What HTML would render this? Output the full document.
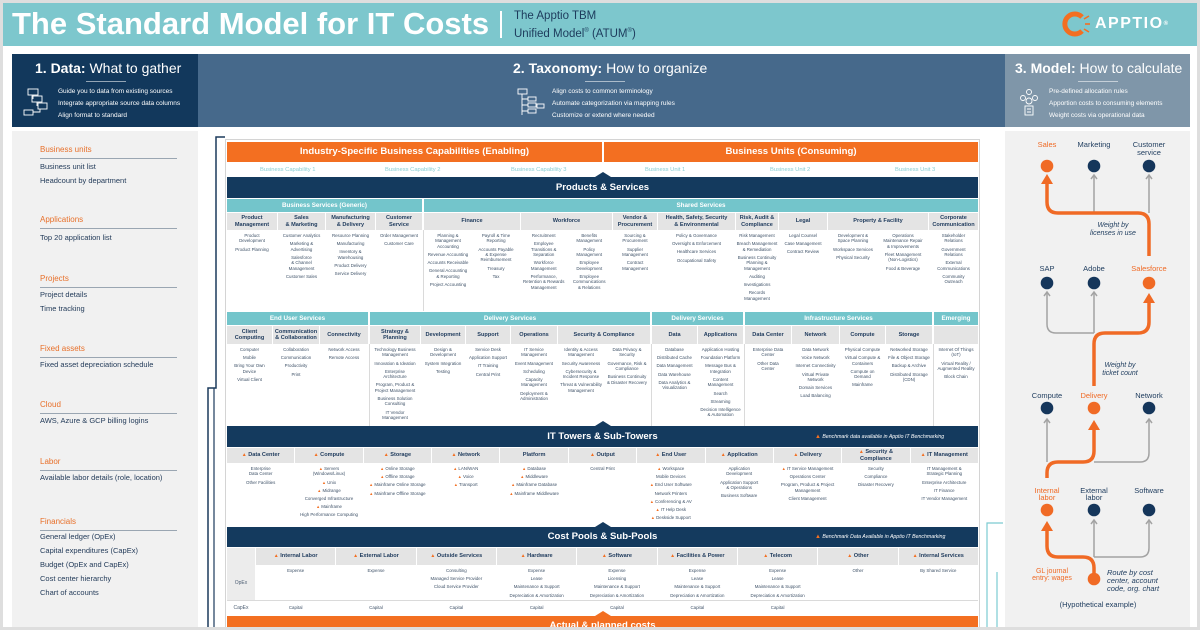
<!DOCTYPE html>
<html><head><meta charset="utf-8">
<style>
*{margin:0;padding:0;box-sizing:border-box}
html,body{width:1200px;height:630px;overflow:hidden;background:#fff}
body{font-family:"Liberation Sans",Arial,sans-serif;position:relative}
.a{position:absolute}
.frame{position:absolute;left:0;top:0;width:1200px;height:630px;border:3px solid #dedede;z-index:50;pointer-events:none}
.sec{position:absolute;top:54px;height:73px;color:#fff}
.st{position:absolute;top:60px;font-size:14px;line-height:16px;color:#fff;white-space:nowrap}
.ul{position:absolute;top:81px;height:1px;width:40px;background:rgba(255,255,255,.55)}
.bl{position:absolute;top:86px;font-size:6.5px;line-height:12px;color:#fff;white-space:nowrap}
.panel{position:absolute;top:131px;height:496px;background:#f1f1f1}
.lt{position:absolute;left:40px;width:137px;font-size:8px;line-height:10px;color:#e8702a;border-bottom:1px solid #9aa6b2;padding-bottom:3px}
.li{position:absolute;left:40px;font-size:7.5px;line-height:14px;color:#243c5a;white-space:nowrap}
.bar{position:absolute;color:#fff;font-weight:bold;text-align:center;white-space:nowrap}
.navy{background:#143a5e;font-size:9.6px;line-height:21px}
.org{background:#f36f21;font-size:9.6px;line-height:20px}
.teal{position:absolute;background:#73c5cb;color:#fff;font-weight:bold;font-size:6.3px;line-height:13px;text-align:center;height:13px;white-space:nowrap}
.row{position:absolute;display:flex;gap:1px}
.h{background:#e4e4e4;color:#1e3a5c;font-weight:bold;font-size:5.6px;line-height:6.4px;display:flex;align-items:center;justify-content:center;text-align:center;white-space:nowrap;flex:none}
.c{text-align:center;font-size:4.4px;line-height:5.4px;color:#3f5268;padding-top:3px;white-space:nowrap;flex:none}
.c div{margin-bottom:2.8px}
.c2{display:flex;flex:none}
.c2>.c{flex:1}
.fl{flex:1 1 0}
.t{color:#f36f21;font-size:4px}
.th{color:#f36f21;font-size:5px}
.vl{position:absolute;width:1px;background:#dadada}
.bu{position:absolute;top:165px;font-size:5.8px;line-height:10px;color:#86cdd3;white-space:nowrap}
.tab{position:absolute;width:0;height:0;border-left:8px solid transparent;border-right:8px solid transparent;border-bottom:5px solid #143a5e}
.bm{position:absolute;font-size:5.2px;line-height:8px;color:#fff;font-style:italic;white-space:nowrap}
</style></head><body>

<!-- header -->
<div class="a" style="left:3px;top:3px;width:1194px;height:43px;background:#7dc7cd"></div>
<div class="a" style="left:12px;top:5px;font-size:31px;line-height:38px;font-weight:bold;color:#fff;white-space:nowrap">The Standard Model for IT Costs</div>
<div class="a" style="left:500px;top:11px;width:1.5px;height:27px;background:#fff"></div>
<div class="a" style="left:514px;top:9px;font-size:11.5px;line-height:15px;color:#1d3b5c;white-space:nowrap">The Apptio TBM<br>Unified Model<sup style="font-size:6px">®</sup> (ATUM<sup style="font-size:6px">®</sup>)</div>
<svg class="a" style="left:1060px;top:9px" width="32" height="32" viewBox="1060 9 32 32">
<path d="M1082 17 A10 10 0 1 0 1082 31" fill="none" stroke="#f36f21" stroke-width="5"/>
<g stroke="#f36f21" stroke-width="1.6"><path d="M1084 19 L1089 16"/><path d="M1085 24 L1090 24"/><path d="M1084 29 L1089 32"/></g>
</svg>
<div class="a" style="left:1095px;top:15px;font-size:16px;line-height:18px;font-weight:bold;color:#fff;letter-spacing:1.5px;white-space:nowrap">APPTIO<span style="font-size:6px;vertical-align:top">®</span></div>

<!-- section banners -->
<div class="sec" style="left:12px;width:186px;background:#12385c"></div>
<div class="sec" style="left:198px;width:807px;background:#46698b"></div>
<div class="sec" style="left:1005px;width:185px;background:#7f96a9"></div>
<div class="st" style="left:35px"><b>1. Data:</b> What to gather</div>
<div class="st" style="left:513px"><b>2. Taxonomy:</b> How to organize</div>
<div class="st" style="left:1015px"><b>3. Model:</b> How to calculate</div>
<div class="ul" style="left:86px"></div>
<div class="ul" style="left:585px"></div>
<div class="ul" style="left:1078px"></div>
<div class="bl" style="left:58px">Guide you to data from existing sources<br>Integrate appropriate source data columns<br>Align format to standard</div>
<div class="bl" style="left:552px">Align costs to common terminology<br>Automate categorization via mapping rules<br>Customize or extend where needed</div>
<div class="bl" style="left:1049px">Pre-defined allocation rules<br>Apportion costs to consuming elements<br>Weight costs via operational data</div>
<svg class="a" style="left:0;top:0" width="1200" height="130">
<g fill="none" stroke="#fff" stroke-width="0.9">
<rect x="28" y="89" width="10" height="6"/><rect x="32" y="96" width="10" height="6"/><rect x="38" y="103" width="9" height="6"/><rect x="24" y="110" width="9" height="5"/>
<path d="M33 95 V99 M37 102 V106 M33 112 H40 V109"/>
<rect x="518" y="89" width="9" height="5"/><path d="M522 94 V115 M522 99 H528 M522 105 H528 M522 111 H528"/>
<rect x="528" y="97" width="8" height="4"/><rect x="528" y="103" width="8" height="4"/><rect x="528" y="109" width="8" height="4"/><rect x="537" y="104" width="7" height="4"/>
<circle cx="1029" cy="92" r="2.5"/><circle cx="1023" cy="98" r="2.5"/><circle cx="1035" cy="98" r="2.5"/><circle cx="1029" cy="101" r="3"/>
<rect x="1025" y="106" width="8" height="9"/><path d="M1027 109 H1031 M1027 112 H1031"/>
</g></svg>

<!-- left panel -->
<div class="panel" style="left:12px;width:186px"></div>
<div class="lt" style="top:145px">Business units</div>
<div class="li" style="top:160px">Business unit list<br>Headcount by department</div>
<div class="lt" style="top:215px">Applications</div>
<div class="li" style="top:231px">Top 20 application list</div>
<div class="lt" style="top:274px">Projects</div>
<div class="li" style="top:288px">Project details<br>Time tracking</div>
<div class="lt" style="top:344px">Fixed assets</div>
<div class="li" style="top:358px">Fixed asset depreciation schedule</div>
<div class="lt" style="top:400px">Cloud</div>
<div class="li" style="top:414px">AWS, Azure &amp; GCP billing logins</div>
<div class="lt" style="top:457px">Labor</div>
<div class="li" style="top:471px">Available labor details (role, location)</div>
<div class="lt" style="top:517px">Financials</div>
<div class="li" style="top:530px">General ledger (OpEx)<br>Capital expenditures (CapEx)<br>Budget (OpEx and CapEx)<br>Cost center hierarchy<br>Chart of accounts</div>

<!-- right panel -->
<div class="panel" style="left:1005px;width:185px"></div>

<!-- main box -->
<div class="a" style="left:225px;top:139px;width:755px;height:495px;border:1px solid #d4d4d4;background:#fff"></div>
<div class="bar org" style="left:227px;top:142px;width:375px">Industry-Specific Business Capabilities (Enabling)</div>
<div class="bar org" style="left:604px;top:142px;width:374px">Business Units (Consuming)</div>
<div class="bu" style="left:260px">Business Capability 1</div>
<div class="bu" style="left:385px">Business Capability 2</div>
<div class="bu" style="left:511px">Business Capability 3</div>
<div class="bu" style="left:645px">Business Unit 1</div>
<div class="bu" style="left:770px">Business Unit 2</div>
<div class="bu" style="left:895px">Business Unit 3</div>
<div class="tab" style="left:595px;top:172px"></div>
<div class="bar navy" style="left:227px;top:177px;width:751px">Products &amp; Services</div>

<!-- band 1 -->
<div class="teal" style="left:227px;top:199px;width:195px">Business Services (Generic)</div>
<div class="teal" style="left:424px;top:199px;width:554px">Shared Services</div>
<div class="row" style="left:227px;top:213px">
<div class="h" style="width:50px;height:17px">Product<br>Management</div>
<div class="h" style="width:47px;height:17px">Sales<br>&amp; Marketing</div>
<div class="h" style="width:49px;height:17px">Manufacturing<br>&amp; Delivery</div>
<div class="h" style="width:46px;height:17px">Customer<br>Service</div>
</div>
<div class="row" style="left:424px;top:213px">
<div class="h" style="width:96px;height:17px">Finance</div>
<div class="h" style="width:91px;height:17px">Workforce</div>
<div class="h" style="width:44px;height:17px">Vendor &amp;<br>Procurement</div>
<div class="h" style="width:77px;height:17px">Health, Safety, Security<br>&amp; Environmental</div>
<div class="h" style="width:42px;height:17px">Risk, Audit &amp;<br>Compliance</div>
<div class="h" style="width:48px;height:17px">Legal</div>
<div class="h" style="width:100px;height:17px">Property &amp; Facility</div>
<div class="h" style="width:49px;height:17px">Corporate<br>Communication</div>
</div>
<div class="row" style="left:227px;top:230px">
<div class="c" style="width:50px"><div>Product<br>Development</div><div>Product Planning</div></div>
<div class="c" style="width:47px"><div>Customer Analytics</div><div>Marketing &amp;<br>Advertising</div><div>Salesforce<br>&amp; Channel<br>Management</div><div>Customer Sales</div></div>
<div class="c" style="width:49px"><div>Resource Planning</div><div>Manufacturing</div><div>Inventory &amp;<br>Warehousing</div><div>Product Delivery</div><div>Service Delivery</div></div>
<div class="c" style="width:46px"><div>Order Management</div><div>Customer Care</div></div>
</div>
<div class="row" style="left:424px;top:230px">
<div class="c2" style="width:96px"><div class="c"><div>Planning &amp;<br>Management<br>Accounting</div><div>Revenue Accounting</div><div>Accounts Receivable</div><div>General Accounting<br>&amp; Reporting</div><div>Project Accounting</div></div><div class="c"><div>Payroll &amp; Time<br>Reporting</div><div>Accounts Payable<br>&amp; Expense<br>Reimbursement</div><div>Treasury</div><div>Tax</div></div></div>
<div class="c2" style="width:91px"><div class="c"><div>Recruitment</div><div>Employee<br>Transitions &amp;<br>Separation</div><div>Workforce<br>Management</div><div>Performance,<br>Retention &amp; Rewards<br>Management</div></div><div class="c"><div>Benefits<br>Management</div><div>Policy<br>Management</div><div>Employee<br>Development</div><div>Employee<br>Communications<br>&amp; Relations</div></div></div>
<div class="c" style="width:44px"><div>Sourcing &amp;<br>Procurement</div><div>Supplier<br>Management</div><div>Contract<br>Management</div></div>
<div class="c" style="width:77px"><div>Policy &amp; Governance</div><div>Oversight &amp; Enforcement</div><div>Healthcare Services</div><div>Occupational Safety</div></div>
<div class="c" style="width:42px"><div>Risk Management</div><div>Breach Management<br>&amp; Remediation</div><div>Business Continuity<br>Planning &amp;<br>Management</div><div>Auditing</div><div>Investigations</div><div>Records<br>Management</div></div>
<div class="c" style="width:48px"><div>Legal Counsel</div><div>Case Management</div><div>Contract Review</div></div>
<div class="c2" style="width:100px"><div class="c"><div>Development &amp;<br>Space Planning</div><div>Workspace Services</div><div>Physical Security</div></div><div class="c"><div>Operations<br>Maintenance Repair<br>&amp; Improvements</div><div>Fleet Management<br>(Non-Logistics)</div><div>Food &amp; Beverage</div></div></div>
<div class="c" style="width:49px"><div>Stakeholder<br>Relations</div><div>Government<br>Relations</div><div>External<br>Communications</div><div>Community<br>Outreach</div></div>
</div>
<div class="vl" style="left:423px;top:230px;height:81px"></div>

<!-- band 2 -->
<div class="teal" style="left:227px;top:312px;width:141px">End User Services</div>
<div class="teal" style="left:370px;top:312px;width:280px">Delivery Services</div>
<div class="teal" style="left:652px;top:312px;width:91px">Delivery Services</div>
<div class="teal" style="left:745px;top:312px;width:187px">Infrastructure Services</div>
<div class="teal" style="left:934px;top:312px;width:44px">Emerging</div>
<div class="row" style="left:227px;top:326px">
<div class="h" style="width:45px;height:18px">Client<br>Computing</div>
<div class="h" style="width:46px;height:18px">Communication<br>&amp; Collaboration</div>
<div class="h" style="width:48px;height:18px">Connectivity</div>
</div>
<div class="row" style="left:370px;top:326px">
<div class="h" style="width:50px;height:18px">Strategy &amp;<br>Planning</div>
<div class="h" style="width:44px;height:18px">Development</div>
<div class="h" style="width:44px;height:18px">Support</div>
<div class="h" style="width:46px;height:18px">Operations</div>
<div class="h" style="width:92px;height:18px">Security &amp; Compliance</div>
</div>
<div class="row" style="left:652px;top:326px">
<div class="h" style="width:45px;height:18px">Data</div>
<div class="h" style="width:45px;height:18px">Applications</div>
</div>
<div class="row" style="left:745px;top:326px">
<div class="h" style="width:46px;height:18px">Data Center</div>
<div class="h" style="width:47px;height:18px">Network</div>
<div class="h" style="width:45px;height:18px">Compute</div>
<div class="h" style="width:46px;height:18px">Storage</div>
</div>
<div class="row" style="left:934px;top:326px"><div class="h" style="width:44px;height:18px"></div></div>

<div class="row" style="left:227px;top:344px">
<div class="c" style="width:45px"><div>Computer</div><div>Mobile</div><div>Bring Your Own<br>Device</div><div>Virtual Client</div></div>
<div class="c" style="width:46px"><div>Collaboration</div><div>Communication</div><div>Productivity</div><div>Print</div></div>
<div class="c" style="width:48px"><div>Network Access</div><div>Remote Access</div></div>
</div>
<div class="row" style="left:370px;top:344px">
<div class="c" style="width:50px"><div>Technology Business<br>Management</div><div>Innovation &amp; Ideation</div><div>Enterprise<br>Architecture</div><div>Program, Product &amp;<br>Project Management</div><div>Business Solution<br>Consulting</div><div>IT Vendor<br>Management</div></div>
<div class="c" style="width:44px"><div>Design &amp;<br>Development</div><div>System Integration</div><div>Testing</div></div>
<div class="c" style="width:44px"><div>Service Desk</div><div>Application Support</div><div>IT Training</div><div>Central Print</div></div>
<div class="c" style="width:46px"><div>IT Service<br>Management</div><div>Event Management</div><div>Scheduling</div><div>Capacity<br>Management</div><div>Deployment &amp;<br>Administration</div></div>
<div class="c2" style="width:92px"><div class="c"><div>Identity &amp; Access<br>Management</div><div>Security Awareness</div><div>Cybersecurity &amp;<br>Incident Response</div><div>Threat &amp; Vulnerability<br>Management</div></div><div class="c"><div>Data Privacy &amp;<br>Security</div><div>Governance, Risk &amp;<br>Compliance</div><div>Business Continuity<br>&amp; Disaster Recovery</div></div></div>
</div>
<div class="row" style="left:652px;top:344px">
<div class="c" style="width:45px"><div>Database</div><div>Distributed Cache</div><div>Data Management</div><div>Data Warehouse</div><div>Data Analytics &amp;<br>Visualization</div></div>
<div class="c" style="width:45px"><div>Application Hosting</div><div>Foundation Platform</div><div>Message Bus &amp;<br>Integration</div><div>Content<br>Management</div><div>Search</div><div>Streaming</div><div>Decision Intelligence<br>&amp; Automation</div></div>
</div>
<div class="row" style="left:745px;top:344px">
<div class="c" style="width:46px"><div>Enterprise Data<br>Center</div><div>Other Data<br>Center</div></div>
<div class="c" style="width:47px"><div>Data Network</div><div>Voice Network</div><div>Internet Connectivity</div><div>Virtual Private<br>Network</div><div>Domain Services</div><div>Load Balancing</div></div>
<div class="c" style="width:45px"><div>Physical Compute</div><div>Virtual Compute &amp;<br>Containers</div><div>Compute on<br>Demand</div><div>Mainframe</div></div>
<div class="c" style="width:46px"><div>Networked Storage</div><div>File &amp; Object Storage</div><div>Backup &amp; Archive</div><div>Distributed Storage<br>(CDN)</div></div>
</div>
<div class="row" style="left:934px;top:344px">
<div class="c" style="width:44px"><div>Internet Of Things<br>(IoT)</div><div>Virtual Reality /<br>Augmented Reality</div><div>Block Chain</div></div>
</div>
<div class="vl" style="left:369px;top:344px;height:82px"></div>
<div class="vl" style="left:651px;top:344px;height:82px"></div>
<div class="vl" style="left:744px;top:344px;height:82px"></div>
<div class="vl" style="left:933px;top:344px;height:82px"></div>

<!-- IT towers -->
<div class="tab" style="left:595px;top:421px"></div>
<div class="bar navy" style="left:227px;top:426px;width:751px">IT Towers &amp; Sub-Towers</div>
<div class="bm" style="left:815px;top:433px"><span style="color:#f36f21;font-style:normal;font-size:6px">▲</span> Benchmark data available in Apptio IT Benchmarking</div>
<div class="row" style="left:227px;top:448px;width:751px">
<div class="h fl" style="height:15px"><span class="th">▲</span>&nbsp;Data Center</div>
<div class="h fl" style="height:15px"><span class="th">▲</span>&nbsp;Compute</div>
<div class="h fl" style="height:15px"><span class="th">▲</span>&nbsp;Storage</div>
<div class="h fl" style="height:15px"><span class="th">▲</span>&nbsp;Network</div>
<div class="h fl" style="height:15px">Platform</div>
<div class="h fl" style="height:15px"><span class="th">▲</span>&nbsp;Output</div>
<div class="h fl" style="height:15px"><span class="th">▲</span>&nbsp;End User</div>
<div class="h fl" style="height:15px"><span class="th">▲</span>&nbsp;Application</div>
<div class="h fl" style="height:15px"><span class="th">▲</span>&nbsp;Delivery</div>
<div class="h fl" style="height:15px"><span><span class="th">▲</span>&nbsp;Security &amp;<br>Compliance</span></div>
<div class="h fl" style="height:15px"><span class="th">▲</span>&nbsp;IT Management</div>
</div>
<div class="row" style="left:227px;top:463px;width:751px">
<div class="c fl"><div>Enterprise<br>Data Center</div><div>Other Facilities</div></div>
<div class="c fl"><div><span class="t">▲</span> Servers<br>(Windows/Linux)</div><div><span class="t">▲</span> Unix</div><div><span class="t">▲</span> Midrange</div><div>Converged Infrastructure</div><div><span class="t">▲</span> Mainframe</div><div>High Performance Computing</div></div>
<div class="c fl"><div><span class="t">▲</span> Online Storage</div><div><span class="t">▲</span> Offline Storage</div><div><span class="t">▲</span> Mainframe Online Storage</div><div><span class="t">▲</span> Mainframe Offline Storage</div></div>
<div class="c fl"><div><span class="t">▲</span> LAN/WAN</div><div><span class="t">▲</span> Voice</div><div><span class="t">▲</span> Transport</div></div>
<div class="c fl"><div><span class="t">▲</span> Database</div><div><span class="t">▲</span> Middleware</div><div><span class="t">▲</span> Mainframe Database</div><div><span class="t">▲</span> Mainframe Middleware</div></div>
<div class="c fl"><div>Central Print</div></div>
<div class="c fl"><div><span class="t">▲</span> Workspace</div><div>Mobile Devices</div><div><span class="t">▲</span> End User Software</div><div>Network Printers</div><div><span class="t">▲</span> Conferencing &amp; AV</div><div><span class="t">▲</span> IT Help Desk</div><div><span class="t">▲</span> Deskside Support</div></div>
<div class="c fl"><div>Application<br>Development</div><div>Application Support<br>&amp; Operations</div><div>Business Software</div></div>
<div class="c fl"><div><span class="t">▲</span> IT Service Management</div><div>Operations Center</div><div>Program, Product &amp; Project<br>Management</div><div>Client Management</div></div>
<div class="c fl"><div>Security</div><div>Compliance</div><div>Disaster Recovery</div></div>
<div class="c fl"><div>IT Management &amp;<br>Strategic Planning</div><div>Enterprise Architecture</div><div>IT Finance</div><div>IT Vendor Management</div></div>
</div>

<!-- Cost pools -->
<div class="tab" style="left:595px;top:522px"></div>
<div class="bar navy" style="left:227px;top:527px;width:751px;line-height:20px;height:20px">Cost Pools &amp; Sub-Pools</div>
<div class="bm" style="left:815px;top:533px"><span style="color:#f36f21;font-style:normal;font-size:6px">▲</span> Benchmark Data Available in Apptio IT Benchmarking</div>
<div class="a" style="left:227px;top:548px;width:28px;height:52px;background:#ececec"></div>
<div class="a" style="left:227px;top:578px;width:28px;font-size:5px;line-height:10px;color:#4f6075;text-align:center">OpEx</div>
<div class="a" style="left:227px;top:603px;width:28px;font-size:5px;line-height:10px;color:#4f6075;text-align:center">CapEx</div>
<div class="a" style="left:227px;top:600px;width:751px;height:1px;background:#dadada"></div>
<div class="row" style="left:256px;top:548px;width:722px">
<div class="h fl" style="height:17px"><span class="th">▲</span>&nbsp;Internal Labor</div>
<div class="h fl" style="height:17px"><span class="th">▲</span>&nbsp;External Labor</div>
<div class="h fl" style="height:17px"><span class="th">▲</span>&nbsp;Outside Services</div>
<div class="h fl" style="height:17px"><span class="th">▲</span>&nbsp;Hardware</div>
<div class="h fl" style="height:17px"><span class="th">▲</span>&nbsp;Software</div>
<div class="h fl" style="height:17px"><span class="th">▲</span>&nbsp;Facilities &amp; Power</div>
<div class="h fl" style="height:17px"><span class="th">▲</span>&nbsp;Telecom</div>
<div class="h fl" style="height:17px"><span class="th">▲</span>&nbsp;Other</div>
<div class="h fl" style="height:17px"><span class="th">▲</span>&nbsp;Internal Services</div>
</div>
<div class="row" style="left:256px;top:565px;width:722px">
<div class="c fl"><div>Expense</div></div>
<div class="c fl"><div>Expense</div></div>
<div class="c fl"><div>Consulting</div><div>Managed Service Provider</div><div>Cloud Service Provider</div></div>
<div class="c fl"><div>Expense</div><div>Lease</div><div>Maintenance &amp; Support</div><div>Depreciation &amp; Amortization</div></div>
<div class="c fl"><div>Expense</div><div>Licensing</div><div>Maintenance &amp; Support</div><div>Depreciation &amp; Amortization</div></div>
<div class="c fl"><div>Expense</div><div>Lease</div><div>Maintenance &amp; Support</div><div>Depreciation &amp; Amortization</div></div>
<div class="c fl"><div>Expense</div><div>Lease</div><div>Maintenance &amp; Support</div><div>Depreciation &amp; Amortization</div></div>
<div class="c fl"><div>Other</div></div>
<div class="c fl"><div>By Shared Service</div></div>
</div>
<div class="row" style="left:256px;top:602px;width:722px">
<div class="c fl"><div>Capital</div></div>
<div class="c fl"><div>Capital</div></div>
<div class="c fl"><div>Capital</div></div>
<div class="c fl"><div>Capital</div></div>
<div class="c fl"><div>Capital</div></div>
<div class="c fl"><div>Capital</div></div>
<div class="c fl"><div>Capital</div></div>
<div class="c fl"><div></div></div>
<div class="c fl"><div></div></div>
</div>
<div class="tab" style="left:595px;top:611px;border-bottom-color:#f36f21"></div>
<div class="bar org" style="left:227px;top:616px;width:751px;height:14px;line-height:20px;overflow:hidden">Actual &amp; planned costs</div>

<!-- lines + flow diagram -->
<svg class="a" style="left:0;top:0" width="1200" height="630">
<path d="M225 137 H216 V388 H208 V630" fill="none" stroke="#1b3a5c" stroke-width="1.5"/>
<path d="M214 388 V630" fill="none" stroke="#1b3a5c" stroke-width="1.2"/>
<path d="M1003 523 H987 V630" fill="none" stroke="#7ccbd1" stroke-width="1.2"/>
<path d="M997 572 V630" fill="none" stroke="#7ccbd1" stroke-width="1.2"/>
<g stroke="#a3a3a3" stroke-width="1.5" fill="none">
<path d="M1094 213 V176"/><path d="M1149 213 V176"/>
<path d="M1094 333 H1056 Q1047 333 1047 324 V293"/><path d="M1094 333 V293"/>
<path d="M1047 462 V420"/><path d="M1094 462 H1140 Q1149 462 1149 453 V420"/>
<path d="M1094 557 V521"/><path d="M1094 557 H1140 Q1149 557 1149 548 V521"/>
<path d="M1091 179 L1094 175 L1097 179 M1146 179 L1149 175 L1152 179 M1044 296 L1047 292 L1050 296 M1091 296 L1094 292 L1097 296 M1044 423 L1047 419 L1050 423 M1146 423 L1149 419 L1152 423 M1091 524 L1094 520 L1097 524 M1146 524 L1149 520 L1152 524"/>
</g>
<g stroke="#f06a25" stroke-width="3.5" fill="none">
<path d="M1149 256 V224 Q1149 213 1138 213 H1058 Q1047 213 1047 202 V182"/>
<path d="M1094 386 V344 Q1094 333 1105 333 H1138 Q1149 333 1149 322 V301"/>
<path d="M1047 478 V473 Q1047 462 1058 462 H1083 Q1094 462 1094 451 V428"/>
<path d="M1094 573 V568 Q1094 557 1083 557 H1058 Q1047 557 1047 546 V529"/>
</g>
<g fill="#f06a25">
<polygon points="1041,184 1047,174 1053,184"/><polygon points="1143,303 1149,293 1155,303"/>
<polygon points="1088,430 1094,420 1100,430"/><polygon points="1041,531 1047,521 1053,531"/>
</g>
<g fill="#15365b">
<circle cx="1094" cy="166" r="6.3"/><circle cx="1149" cy="166" r="6.3"/>
<circle cx="1047" cy="283" r="6.3"/><circle cx="1094" cy="283" r="6.3"/>
<circle cx="1047" cy="408" r="6.3"/><circle cx="1149" cy="408" r="6.3"/>
<circle cx="1094" cy="510" r="6.3"/><circle cx="1149" cy="510" r="6.3"/>
</g>
<g fill="#f06a25">
<circle cx="1047" cy="166" r="6.3"/><circle cx="1149" cy="283" r="6.3"/>
<circle cx="1094" cy="408" r="6.3"/><circle cx="1047" cy="510" r="6.3"/><circle cx="1094" cy="579" r="6.3"/>
</g>
<g font-family="Liberation Sans, Arial, sans-serif" font-size="7.5" text-anchor="middle" fill="#1d3b5d">
<text x="1047" y="147" fill="#f06a25">Sales</text>
<text x="1094" y="147">Marketing</text>
<text x="1149" y="147">Customer</text><text x="1149" y="155">service</text>
<text x="1047" y="271">SAP</text>
<text x="1094" y="271">Adobe</text>
<text x="1149" y="271" fill="#f06a25">Salesforce</text>
<text x="1047" y="398">Compute</text>
<text x="1094" y="398" fill="#f06a25">Delivery</text>
<text x="1149" y="398">Network</text>
<text x="1047" y="493" fill="#f06a25">Internal</text><text x="1047" y="500" fill="#f06a25">labor</text>
<text x="1094" y="493">External</text><text x="1094" y="500">labor</text>
<text x="1149" y="493">Software</text>
<text x="1052" y="573" fill="#f06a25" font-size="7">GL journal</text>
<text x="1052" y="580" fill="#f06a25" font-size="7">entry: wages</text>
<text x="1098" y="607">(Hypothetical example)</text>
</g>
<g font-family="Liberation Sans, Arial, sans-serif" font-size="7" font-style="italic" fill="#1d3b5d">
<text x="1113" y="227" text-anchor="middle">Weight by</text>
<text x="1113" y="235" text-anchor="middle">licenses in use</text>
<text x="1120" y="367" text-anchor="middle">Weight by</text>
<text x="1120" y="375" text-anchor="middle">ticket count</text>
<text x="1107" y="575" font-size="7.5">Route by cost</text>
<text x="1107" y="583" font-size="7.5">center, account</text>
<text x="1107" y="591" font-size="7.5">code, org. chart</text>
</g>
</svg>

<div class="frame"></div>
</body></html>
